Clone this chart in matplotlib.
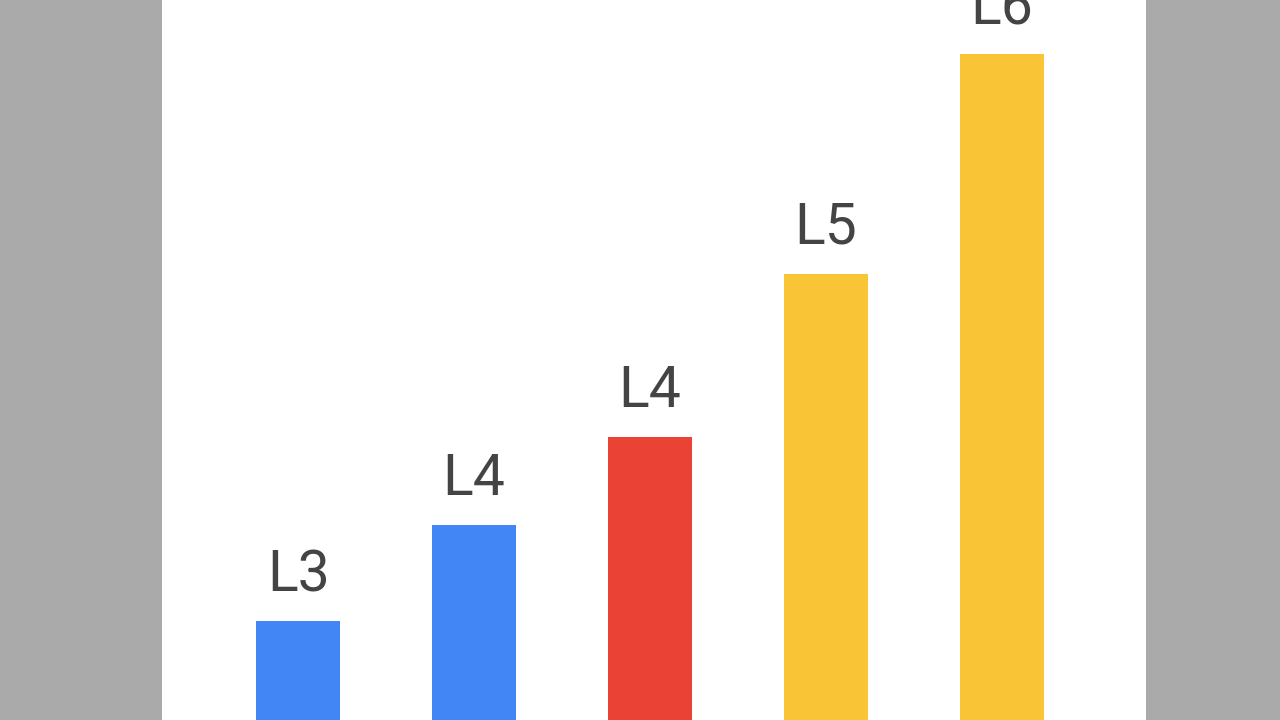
import matplotlib
matplotlib.use("Agg")
import matplotlib.pyplot as plt

categories = ["L3", "L4", "L4", "L5", "L6"]
values = [99, 195, 283, 446, 666]
colors = ["#4285F4", "#4285F4", "#EA4335", "#F9C536", "#F9C536"]

fig = plt.figure(figsize=(12.8, 7.2), dpi=100, facecolor="#AAAAAA")
ax = fig.add_axes([162 / 1280, 0, 984 / 1280, 1])
ax.set_facecolor("white")
x = list(range(len(values)))
bars = ax.bar(x, values, width=0.474, color=colors)
ax.set_xlim(-0.774, 4.818)
ax.set_ylim(0, 720)
for spine in ax.spines.values():
    spine.set_visible(False)
ax.set_xticks([])
ax.set_yticks([])
for xi, v, lab in zip(x, values, categories):
    ax.annotate(lab, (xi, v), xytext=(0, 21.6), textcoords="offset points",
                ha="center", va="baseline", fontsize=41, color="#444444",
                family=["Roboto", "DejaVu Sans"], annotation_clip=False)
fig.savefig("out.png", dpi=100, facecolor=fig.get_facecolor())
